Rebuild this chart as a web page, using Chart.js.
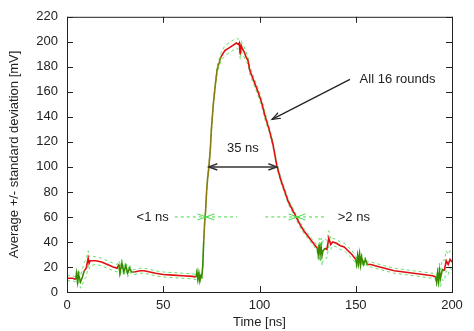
<!DOCTYPE html>
<html>
<head>
<meta charset="utf-8">
<script src="https://cdn.jsdelivr.net/npm/chart.js@4.4.0/dist/chart.umd.min.js"></script>
<style>
  html, body { margin: 0; padding: 0; background: #fff; }
  #wrap { width: 474px; height: 331px; }
</style>
</head>
<body>
<div id="wrap"><canvas id="pulseChart"></canvas></div>
<script>
// Average pulse over all rounds, with +/- standard deviation band

const timeNs = [0, 3, 4.5, 5, 5.5, 6, 7, 8, 9, 10, 11, 11.5, 12, 15, 18, 21, 24, 26,
  27, 27.5, 28.5, 29.5, 30.5, 31.5, 32.5, 33.5, 35, 38, 40, 43, 46, 50, 55, 60, 65,
  67, 67.5, 68, 68.5, 69, 69.5, 70, 70.5, 71, 71.5, 72, 72.5, 73, 73.7, 74.5, 75, 76,
  77, 78, 80, 82, 85, 88, 89, 89.5, 90, 90.5, 91, 92, 93, 94, 95, 97, 99, 101, 103,
  105, 107, 109, 111, 113, 115, 117, 119, 121, 123, 125, 127, 129, 130, 130.5, 131,
  131.5, 132, 132.5, 133, 134, 135, 136, 137, 138, 140, 142, 144, 146, 148, 150,
  150.5, 151, 151.5, 152, 152.5, 153, 154, 155, 156, 158, 160, 165, 170, 175, 180,
  185, 190, 191.5, 192, 192.5, 193, 193.5, 194, 195, 196, 197, 198, 199, 200];

const meanMv = [11, 11, 10, 15, 8, 14, 8, 12, 17, 19, 27, 23, 25, 25, 24, 22, 20, 19,
  22, 15, 23, 16, 21, 15, 19, 16, 16, 17, 17, 16, 15, 14, 13.5, 13, 12.5,
  12, 16, 10, 15, 9, 13, 12, 20, 40, 55, 65, 80, 90, 100, 115, 130, 150,
  165, 178, 188, 193, 196, 199, 198, 199, 190, 197, 195, 192, 188, 185, 177, 169, 161, 152, 140,
  130, 118, 101, 90, 81, 72, 66, 60, 54, 49, 45, 41, 37, 35, 30, 38,
  30, 36, 29, 33, 35, 34, 43, 38, 40, 39, 37, 36, 33, 30, 26,
  22, 29, 23, 30, 22, 28, 22, 26, 22, 22, 21, 19, 17, 16, 15,
  14, 13, 12, 8, 15, 9, 17, 11, 18, 17, 25, 22, 26, 24];

const sdMv = [2, 2, 2, 3, 3, 4, 5, 6, 7, 7, 6, 5, 4, 3, 3, 3, 3, 3,
  3, 3, 3, 3, 3, 3, 3, 2, 2, 2, 2, 2, 2, 2, 2, 2, 2,
  2, 2, 2, 2, 2, 2, 2, 2, 2, 2, 2, 2, 2, 2, 2, 2, 2,
  2, 3, 3, 4, 4, 4, 4, 4, 4, 4, 4, 4, 4, 3, 3, 3, 3, 3, 3,
  2, 2, 2, 2, 2, 2, 2, 2, 2, 2, 2, 2, 2, 3, 4, 5,
  6, 7, 8, 8, 8, 7, 6, 4, 3, 3, 3, 3, 3, 3, 3,
  3, 3, 3, 3, 3, 3, 2, 2, 2, 2, 2, 2, 2, 2, 2,
  2, 2, 2, 3, 4, 5, 6, 7, 8, 8, 8, 8, 7, 6];

// regions where the trace shows as dark green zigzag
const noisyRanges = [[4.4, 8.5], [26.5, 34], [67, 71], [130, 134], [150, 156], [191.5, 196]];

const xTicks = [0, 50, 100, 150, 200];
const yTicks = [0, 20, 40, 60, 80, 100, 120, 140, 160, 180, 200, 220];

const toPts = (ys) => timeNs.map((t, i) => ({ x: t, y: ys[i] }));
const upper = meanMv.map((m, i) => m + sdMv[i]);
const lower = meanMv.map((m, i) => m - sdMv[i]);

const inNoise = (x) => noisyRanges.some(r => x >= r[0] && x < r[1]);

const FONT = "'Liberation Sans', Arial, sans-serif";
const INK = "#222";

// gnuplot style frame with inward ticks, plus the annotations
const framePlugin = {
  id: "frame",
  afterDraw(chart) {
    const { ctx, chartArea: a, scales: { x, y } } = chart;
    ctx.save();
    ctx.strokeStyle = INK;
    ctx.lineWidth = 1;
    ctx.strokeRect(a.left + 0.5, a.top + 0.5, a.right - a.left, a.bottom - a.top);
    ctx.beginPath();
    xTicks.forEach(v => {
      const px = Math.round(x.getPixelForValue(v)) + 0.5;
      ctx.moveTo(px, a.bottom); ctx.lineTo(px, a.bottom - 6);
      ctx.moveTo(px, a.top); ctx.lineTo(px, a.top + 6);
    });
    yTicks.forEach(v => {
      const py = Math.round(y.getPixelForValue(v)) + 0.5;
      ctx.moveTo(a.left, py); ctx.lineTo(a.left + 6, py);
      ctx.moveTo(a.right, py); ctx.lineTo(a.right - 6, py);
    });
    ctx.stroke();

    const P = (dx, dy) => [x.getPixelForValue(dx), y.getPixelForValue(dy)];
    const head = (tip, from, col) => {
      const ang = Math.atan2(tip[1] - from[1], tip[0] - from[0]);
      ctx.beginPath();
      ctx.setLineDash([]);
      ctx.strokeStyle = col;
      ctx.moveTo(tip[0] - 9 * Math.cos(ang - 0.35), tip[1] - 9 * Math.sin(ang - 0.35));
      ctx.lineTo(tip[0], tip[1]);
      ctx.lineTo(tip[0] - 9 * Math.cos(ang + 0.35), tip[1] - 9 * Math.sin(ang + 0.35));
      ctx.stroke();
    };
    const line = (p, q, col, dash) => {
      ctx.beginPath();
      ctx.setLineDash(dash || []);
      ctx.strokeStyle = col;
      ctx.moveTo(p[0], p[1]); ctx.lineTo(q[0], q[1]);
      ctx.stroke();
    };

    // 35 ns width arrow
    ctx.lineWidth = 1.5;
    const w0 = P(73.7, 100), w1 = P(109, 100);
    line(w0, w1, "#333");
    head(w0, w1, "#333"); head(w1, w0, "#333");

    // All 16 rounds pointer
    ctx.lineWidth = 1.2;
    const a0 = P(147, 170), a1 = P(106.5, 138);
    line(a0, a1, "#222");
    head(a1, a0, "#222");

    // rise / fall time markers at 60 mV
    const GREEN = "#44dd44";
    ctx.lineWidth = 1;
    [[56, 72.2, 88.3], [103, 119.5, 134]].forEach(([l, c, r]) => {
      const pl = P(l, 60), pc = P(c, 60), pr = P(r, 60);
      line(pl, pc, GREEN, [3, 3]);
      line(pc, pr, GREEN, [3, 3]);
      head(pc, pl, GREEN); head(pc, pr, GREEN);
    });

    ctx.setLineDash([]);
    ctx.fillStyle = INK;
    ctx.font = "13px " + FONT;
    ctx.textBaseline = "middle";
    ctx.textAlign = "center";
    let t = P(91.4, 115); ctx.fillText("35 ns", t[0], t[1]);
    t = P(44.5, 60); ctx.fillText("<1 ns", t[0], t[1]);
    t = P(149, 60); ctx.fillText(">2 ns", t[0], t[1]);
    ctx.textAlign = "left";
    t = P(152, 170); ctx.fillText("All 16 rounds", t[0], t[1]);
    ctx.restore();
  }
};

new Chart(document.getElementById("pulseChart"), {
  type: "line",
  data: {
    datasets: [
      {
        label: "Average",
        data: toPts(meanMv),
        borderColor: "#e01010",
        borderWidth: 1.6,
        pointRadius: 0,
        tension: 0,
        segment: {
          borderColor: c => inNoise(c.p0.parsed.x) ? "#3a8a00" :
            (c.p0.parsed.x >= 71 && c.p0.parsed.x < 80 ? "#8a7a10" : "#e01010"),
        },
      },
      {
        label: "+sd",
        data: toPts(upper),
        borderColor: "#66e066",
        borderWidth: 1,
        borderDash: [3, 3],
        pointRadius: 0,
        tension: 0,
      },
      {
        label: "-sd",
        data: toPts(lower),
        borderColor: "#66e066",
        borderWidth: 1,
        borderDash: [3, 3],
        pointRadius: 0,
        tension: 0,
      },
    ],
  },
  options: {
    responsive: true,
    maintainAspectRatio: false,
    animation: false,
    layout: { padding: { top: 15, right: 22, left: 0, bottom: 0 } },
    plugins: { legend: { display: false }, tooltip: { enabled: false } },
    scales: {
      x: {
        type: "linear",
        min: 0,
        max: 200,
        grid: { display: false, drawTicks: false },
        border: { display: false },
        afterFit: s => { s.height = 39; },
        afterBuildTicks: s => { s.ticks = xTicks.map(v => ({ value: v })); },
        ticks: { padding: 6, color: INK, font: { family: FONT, size: 13 } },
        title: {
          display: true,
          text: "Time [ns]",
          color: INK,
          padding: { top: 0, bottom: 1 },
          font: { family: FONT, size: 13 },
        },
      },
      y: {
        min: 0,
        max: 220,
        grid: { display: false, drawTicks: false },
        border: { display: false },
        afterFit: s => { s.width = 67; },
        afterBuildTicks: s => { s.ticks = yTicks.map(v => ({ value: v })); },
        ticks: { padding: 9, color: INK, font: { family: FONT, size: 13 } },
        title: {
          display: true,
          text: "Average +/- standard deviation [mV]",
          color: INK,
          padding: { top: 7, bottom: 0 },
          font: { family: FONT, size: 13 },
        },
      },
    },
  },
  plugins: [framePlugin],
});
</script>
</body>
</html>
